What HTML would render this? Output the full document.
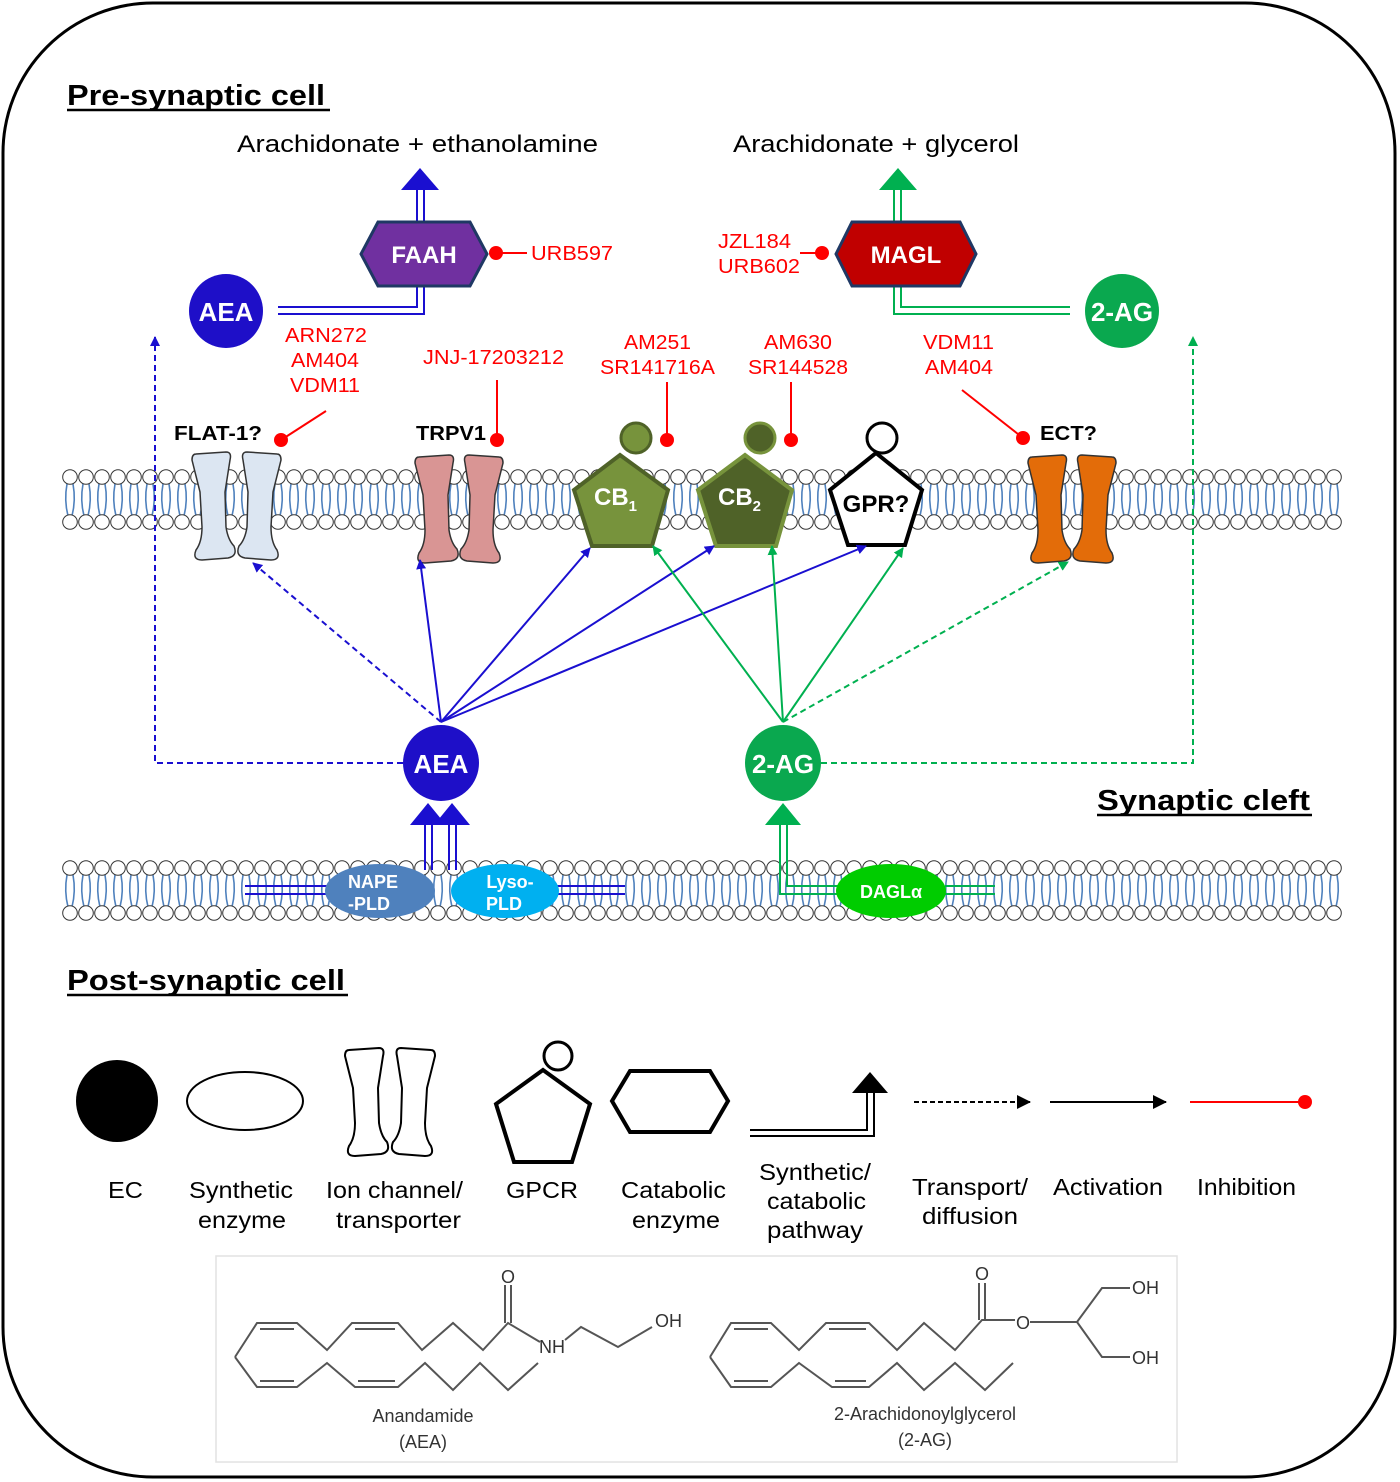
<!DOCTYPE html>
<html><head><meta charset="utf-8"><style>
html,body{margin:0;padding:0;background:#fff;}
svg{display:block;font-family:"Liberation Sans",Arial,sans-serif;}
</style></head><body>
<svg width="1400" height="1482" viewBox="0 0 1400 1482" xmlns="http://www.w3.org/2000/svg">
<defs>
<pattern id="m1" x="62" y="469" width="16" height="62" patternUnits="userSpaceOnUse">
<path d="M5,15 Q2,31 6,47 M11,15 Q14,31 10,47" stroke="#4f81bd" stroke-width="1.6" fill="none"/>
<circle cx="8" cy="8" r="7.3" fill="#fff" stroke="#333" stroke-width="1"/>
<circle cx="8" cy="53" r="7.3" fill="#fff" stroke="#333" stroke-width="1"/>
</pattern>
<pattern id="m2" x="62" y="860" width="16" height="62" patternUnits="userSpaceOnUse">
<path d="M5,15 Q2,31 6,47 M11,15 Q14,31 10,47" stroke="#4f81bd" stroke-width="1.6" fill="none"/>
<circle cx="8" cy="8" r="7.3" fill="#fff" stroke="#333" stroke-width="1"/>
<circle cx="8" cy="53" r="7.3" fill="#fff" stroke="#333" stroke-width="1"/>
</pattern>
<path id="ch" d="M4,2 L34,0 Q40,0 38,8 L33,40 L34,75 Q36,88 42,94 Q46,104 36,106 L10,108 Q0,108 4,98 Q10,90 10,75 L8,40 L0,8 Q0,2 4,2 Z"/>
<marker id="ab" markerWidth="10" markerHeight="10" refX="9" refY="5" orient="auto" markerUnits="userSpaceOnUse"><path d="M0,0 L10,5 L0,10 Z" fill="#1a0fd0"/></marker>
<marker id="ag" markerWidth="10" markerHeight="10" refX="9" refY="5" orient="auto" markerUnits="userSpaceOnUse"><path d="M0,0 L10,5 L0,10 Z" fill="#00b050"/></marker>
<marker id="ak" markerWidth="14" markerHeight="14" refX="13" refY="7" orient="auto" markerUnits="userSpaceOnUse"><path d="M0,0 L14,7 L0,14 Z" fill="#000"/></marker>
</defs>

<rect x="3" y="3" width="1392" height="1474" rx="150" fill="#fff" stroke="#000" stroke-width="3"/>

<text x="67" y="105" font-size="29" font-weight="bold" textLength="258" lengthAdjust="spacingAndGlyphs">Pre-synaptic cell</text>
<line x1="67" y1="110" x2="330" y2="110" stroke="#000" stroke-width="2.5"/>
<text x="237" y="152" font-size="24" textLength="361" lengthAdjust="spacingAndGlyphs">Arachidonate + ethanolamine</text>
<text x="733" y="152" font-size="24" textLength="286" lengthAdjust="spacingAndGlyphs">Arachidonate + glycerol</text>

<rect x="62" y="469" width="1280" height="62" fill="url(#m1)"/>
<rect x="62" y="860" width="1280" height="62" fill="url(#m2)"/>

<g stroke="#1a0fd0" stroke-width="2" fill="none">
<path d="M278,307 H417 V286 M278,314 H424 V286"/>
<path d="M417,222 V188 M424,222 V188"/>
</g>
<path d="M401,190 L420,168 L439,190 Z" fill="#1a0fd0"/>
<g stroke="#00b050" stroke-width="2" fill="none">
<path d="M1070,307 H901 V286 M1070,314 H894 V286"/>
<path d="M894,222 V188 M901,222 V188"/>
</g>
<path d="M879,190 L898,168 L917,190 Z" fill="#00b050"/>

<polygon points="378,222 470,222 487,254 470,286 378,286 361,254" fill="#7030a0" stroke="#1f3864" stroke-width="3"/>
<text x="424" y="263" font-size="24" font-weight="bold" fill="#fff" text-anchor="middle">FAAH</text>
<polygon points="852,222 960,222 976,254 960,286 852,286 836,254" fill="#c00000" stroke="#1f3864" stroke-width="3"/>
<text x="906" y="263" font-size="24" font-weight="bold" fill="#fff" text-anchor="middle">MAGL</text>

<circle cx="226" cy="311" r="37" fill="#1e0fc8"/>
<text x="226" y="321" font-size="26" font-weight="bold" fill="#fff" text-anchor="middle">AEA</text>
<circle cx="1122" cy="311" r="37" fill="#0aa84f"/>
<text x="1122" y="321" font-size="26" font-weight="bold" fill="#fff" text-anchor="middle">2-AG</text>

<g fill="#f00" font-size="20">
<line x1="496" y1="253" x2="527" y2="253" stroke="#f00" stroke-width="2"/><circle cx="496" cy="253" r="7"/>
<text x="531" y="260" textLength="82" lengthAdjust="spacingAndGlyphs">URB597</text>
<text x="718" y="248" textLength="73" lengthAdjust="spacingAndGlyphs">JZL184</text><text x="718" y="273" textLength="82" lengthAdjust="spacingAndGlyphs">URB602</text>
<line x1="800" y1="253" x2="822" y2="253" stroke="#f00" stroke-width="2"/><circle cx="822" cy="253" r="7"/>
<text x="285" y="342" textLength="82" lengthAdjust="spacingAndGlyphs">ARN272</text><text x="291" y="367" textLength="68" lengthAdjust="spacingAndGlyphs">AM404</text><text x="290" y="392" textLength="70" lengthAdjust="spacingAndGlyphs">VDM11</text>
<text x="423" y="364" textLength="141" lengthAdjust="spacingAndGlyphs">JNJ-17203212</text>
<text x="624" y="349" textLength="67" lengthAdjust="spacingAndGlyphs">AM251</text><text x="600" y="374" textLength="115" lengthAdjust="spacingAndGlyphs">SR141716A</text>
<text x="764" y="349" textLength="68" lengthAdjust="spacingAndGlyphs">AM630</text><text x="748" y="374" textLength="100" lengthAdjust="spacingAndGlyphs">SR144528</text>
<text x="923" y="349" textLength="71" lengthAdjust="spacingAndGlyphs">VDM11</text><text x="925" y="374" textLength="68" lengthAdjust="spacingAndGlyphs">AM404</text>
<line x1="326" y1="411" x2="281" y2="440" stroke="#f00" stroke-width="2"/><circle cx="281" cy="440" r="7"/>
<line x1="497" y1="380" x2="497" y2="440" stroke="#f00" stroke-width="2"/><circle cx="497" cy="440" r="7"/>
<line x1="667" y1="382" x2="667" y2="440" stroke="#f00" stroke-width="2"/><circle cx="667" cy="440" r="7"/>
<line x1="791" y1="382" x2="791" y2="440" stroke="#f00" stroke-width="2"/><circle cx="791" cy="440" r="7"/>
<line x1="962" y1="390" x2="1023" y2="438" stroke="#f00" stroke-width="2"/><circle cx="1023" cy="438" r="7"/>
</g>

<g font-size="20" fill="#000" font-weight="bold">
<text x="174" y="440" textLength="88" lengthAdjust="spacingAndGlyphs">FLAT-1?</text>
<text x="416" y="440" textLength="70" lengthAdjust="spacingAndGlyphs">TRPV1</text>
<text x="1040" y="440" textLength="57" lengthAdjust="spacingAndGlyphs">ECT?</text>
</g>

<g stroke="#333" stroke-width="1.5">
<use href="#ch" transform="translate(192,452)" fill="#dce6f2"/>
<use href="#ch" transform="translate(281,452) scale(-1,1)" fill="#dce6f2"/>
<use href="#ch" transform="translate(415,455)" fill="#d99594"/>
<use href="#ch" transform="translate(503,455) scale(-1,1)" fill="#d99594"/>
<use href="#ch" transform="translate(1028,455)" fill="#e36c09"/>
<use href="#ch" transform="translate(1116,455) scale(-1,1)" fill="#e36c09"/>
</g>

<circle cx="636" cy="438" r="15" fill="#77933c" stroke="#4f6228" stroke-width="3"/>
<polygon points="620,455 668,490 652,546 592,546 574,490" fill="#77933c" stroke="#4f6228" stroke-width="4"/>
<text x="594" y="505" font-size="24" font-weight="bold" fill="#fff">CB<tspan font-size="15" dy="6">1</tspan></text>
<circle cx="760" cy="438" r="15" fill="#4f6228" stroke="#77933c" stroke-width="3"/>
<polygon points="745,455 792,490 776,546 716,546 698,490" fill="#4f6228" stroke="#77933c" stroke-width="4"/>
<text x="718" y="505" font-size="24" font-weight="bold" fill="#fff">CB<tspan font-size="15" dy="6">2</tspan></text>
<circle cx="882" cy="438" r="15" fill="#fff" stroke="#000" stroke-width="3"/>
<polygon points="876,453 922,490 905,545 848,545 830,490" fill="#fff" stroke="#000" stroke-width="4"/>
<text x="876" y="512" font-size="24" font-weight="bold" text-anchor="middle">GPR?</text>

<g stroke="#1a0fd0" stroke-width="2" fill="none" marker-end="url(#ab)">
<line x1="441" y1="722" x2="253" y2="563" stroke-dasharray="6,4"/>
<line x1="441" y1="722" x2="420" y2="560"/>
<line x1="441" y1="722" x2="590" y2="548"/>
<line x1="441" y1="722" x2="714" y2="546"/>
<line x1="441" y1="722" x2="866" y2="546"/>
<path d="M403,763 H155 V337" stroke-dasharray="6,4"/>
</g>
<g stroke="#00b050" stroke-width="2" fill="none" marker-end="url(#ag)">
<line x1="783" y1="722" x2="653" y2="546"/>
<line x1="783" y1="722" x2="772" y2="546"/>
<line x1="783" y1="722" x2="903" y2="548"/>
<line x1="783" y1="722" x2="1068" y2="562" stroke-dasharray="6,4"/>
<path d="M821,763 H1193 V337" stroke-dasharray="6,4"/>
</g>

<circle cx="441" cy="763" r="38" fill="#1e0fc8"/>
<text x="441" y="773" font-size="26" font-weight="bold" fill="#fff" text-anchor="middle">AEA</text>
<circle cx="783" cy="763" r="38" fill="#0aa84f"/>
<text x="783" y="773" font-size="26" font-weight="bold" fill="#fff" text-anchor="middle">2-AG</text>

<text x="1097" y="810" font-size="29" font-weight="bold" textLength="213" lengthAdjust="spacingAndGlyphs">Synaptic cleft</text>
<line x1="1097" y1="815" x2="1312" y2="815" stroke="#000" stroke-width="2.5"/>

<g stroke="#1a0fd0" stroke-width="2" fill="none">
<path d="M245,886 H330 M245,894 H330"/>
<path d="M425,870 V823 M432,870 V823"/>
<path d="M449,870 V823 M456,870 V823"/>
<path d="M555,886 H625 M555,894 H625"/>
</g>
<path d="M410,825 L428,803 L446,825 Z M434,825 L452,803 L470,825 Z" fill="#1a0fd0"/>
<g stroke="#00b050" stroke-width="2" fill="none">
<path d="M838,886 H787 V823 M838,894 H780 V823"/>
<path d="M945,886 H995 M945,894 H995"/>
</g>
<path d="M765,825 L783,803 L801,825 Z" fill="#00b050"/>
<ellipse cx="380" cy="891" rx="55" ry="27" fill="#4f81bd"/>
<text x="373" y="888" font-size="18" font-weight="bold" fill="#fff" text-anchor="middle">NAPE</text>
<text x="369" y="910" font-size="18" font-weight="bold" fill="#fff" text-anchor="middle">-PLD</text>
<ellipse cx="505" cy="891" rx="54" ry="27" fill="#00b0f0"/>
<text x="510" y="888" font-size="18" font-weight="bold" fill="#fff" text-anchor="middle">Lyso-</text>
<text x="504" y="910" font-size="18" font-weight="bold" fill="#fff" text-anchor="middle">PLD</text>
<ellipse cx="891" cy="891" rx="55" ry="27" fill="#00cc00"/>
<text x="891" y="898" font-size="18" font-weight="bold" fill="#fff" text-anchor="middle">DAGLα</text>

<text x="67" y="990" font-size="29" font-weight="bold" textLength="278" lengthAdjust="spacingAndGlyphs">Post-synaptic cell</text>
<line x1="67" y1="995" x2="348" y2="995" stroke="#000" stroke-width="2.5"/>

<circle cx="117" cy="1101" r="41" fill="#000"/>
<ellipse cx="245" cy="1101" rx="58" ry="29" fill="#fff" stroke="#000" stroke-width="2"/>
<g fill="#fff" stroke="#000" stroke-width="2">
<use href="#ch" transform="translate(345,1048)"/>
<use href="#ch" transform="translate(435,1048) scale(-1,1)"/>
</g>
<circle cx="558" cy="1056" r="14" fill="#fff" stroke="#000" stroke-width="3"/>
<polygon points="543,1070 590,1104 572,1162 514,1162 496,1104" fill="#fff" stroke="#000" stroke-width="4"/>
<polygon points="630,1071 710,1071 728,1101 710,1132 630,1132 612,1101" fill="#fff" stroke="#000" stroke-width="4"/>
<path d="M750,1130 H867 V1092 M750,1136 H874 V1092" stroke="#000" stroke-width="2" fill="none"/>
<path d="M852,1093 L870,1072 L888,1093 Z" fill="#000"/>
<line x1="914" y1="1102" x2="1030" y2="1102" stroke="#000" stroke-width="2" stroke-dasharray="5,3" marker-end="url(#ak)"/>
<line x1="1050" y1="1102" x2="1166" y2="1102" stroke="#000" stroke-width="2" marker-end="url(#ak)"/>
<line x1="1190" y1="1102" x2="1300" y2="1102" stroke="#f00" stroke-width="2"/>
<circle cx="1305" cy="1102" r="7" fill="#f00"/>

<g font-size="23">
<text x="108" y="1198" textLength="35" lengthAdjust="spacingAndGlyphs">EC</text>
<text x="189" y="1198" textLength="104" lengthAdjust="spacingAndGlyphs">Synthetic</text><text x="198" y="1228" textLength="88" lengthAdjust="spacingAndGlyphs">enzyme</text>
<text x="326" y="1198" textLength="137" lengthAdjust="spacingAndGlyphs">Ion channel/</text><text x="336" y="1228" textLength="125" lengthAdjust="spacingAndGlyphs">transporter</text>
<text x="506" y="1198" textLength="72" lengthAdjust="spacingAndGlyphs">GPCR</text>
<text x="621" y="1198" textLength="105" lengthAdjust="spacingAndGlyphs">Catabolic</text><text x="632" y="1228" textLength="88" lengthAdjust="spacingAndGlyphs">enzyme</text>
<text x="759" y="1180" textLength="112" lengthAdjust="spacingAndGlyphs">Synthetic/</text><text x="767" y="1209" textLength="99" lengthAdjust="spacingAndGlyphs">catabolic</text><text x="767" y="1238" textLength="96" lengthAdjust="spacingAndGlyphs">pathway</text>
<text x="912" y="1195" textLength="116" lengthAdjust="spacingAndGlyphs">Transport/</text><text x="922" y="1224" textLength="96" lengthAdjust="spacingAndGlyphs">diffusion</text>
<text x="1053" y="1195" textLength="110" lengthAdjust="spacingAndGlyphs">Activation</text>
<text x="1197" y="1195" textLength="99" lengthAdjust="spacingAndGlyphs">Inhibition</text>
</g>

<rect x="216" y="1256" width="961" height="206" fill="none" stroke="#e2e2e2" stroke-width="1.5"/>
<g stroke="#555" stroke-width="2" fill="none">
<polyline points="235,1357 257,1323 297,1323 327,1350 352,1323 398,1323 422,1350 453,1323 483,1350 508,1323 540,1342"/>
<line x1="260" y1="1329" x2="294" y2="1329"/><line x1="355" y1="1329" x2="395" y2="1329"/>
<line x1="505" y1="1323" x2="505" y2="1285"/><line x1="511" y1="1323" x2="511" y2="1285"/>
<polyline points="565,1340 581,1327 618,1347 652,1327"/>
<polyline points="235,1357 257,1387 297,1387 327,1363 355,1387 398,1387 425,1363 453,1390 480,1363 508,1390 538,1363"/>
<line x1="260" y1="1381" x2="294" y2="1381"/><line x1="358" y1="1381" x2="395" y2="1381"/>
<polyline points="710,1357 731,1323 771,1323 799,1350 826,1323 869,1323 897,1350 924,1323 955,1350 982,1320 1015,1320"/>
<line x1="734" y1="1329" x2="768" y2="1329"/><line x1="829" y1="1329" x2="866" y2="1329"/>
<line x1="979" y1="1320" x2="979" y2="1283"/><line x1="985" y1="1320" x2="985" y2="1283"/>
<polyline points="1030,1322 1077,1322 1102,1288 1130,1288"/>
<polyline points="1077,1322 1102,1357 1130,1357"/>
<polyline points="710,1357 731,1387 771,1387 799,1363 832,1387 869,1387 897,1363 924,1390 955,1363 985,1390 1013,1363"/>
<line x1="734" y1="1381" x2="768" y2="1381"/><line x1="835" y1="1381" x2="866" y2="1381"/>
</g>
<g font-size="18" fill="#333">
<text x="501" y="1283">O</text><text x="539" y="1353">NH</text><text x="655" y="1327">OH</text>
<text x="975" y="1280">O</text><text x="1016" y="1329">O</text><text x="1132" y="1294">OH</text><text x="1132" y="1364">OH</text>
<g text-anchor="middle">
<text x="423" y="1422">Anandamide</text><text x="423" y="1448">(AEA)</text>
<text x="925" y="1420">2-Arachidonoylglycerol</text><text x="925" y="1446">(2-AG)</text>
</g>
</g>
</svg>
</body></html>
